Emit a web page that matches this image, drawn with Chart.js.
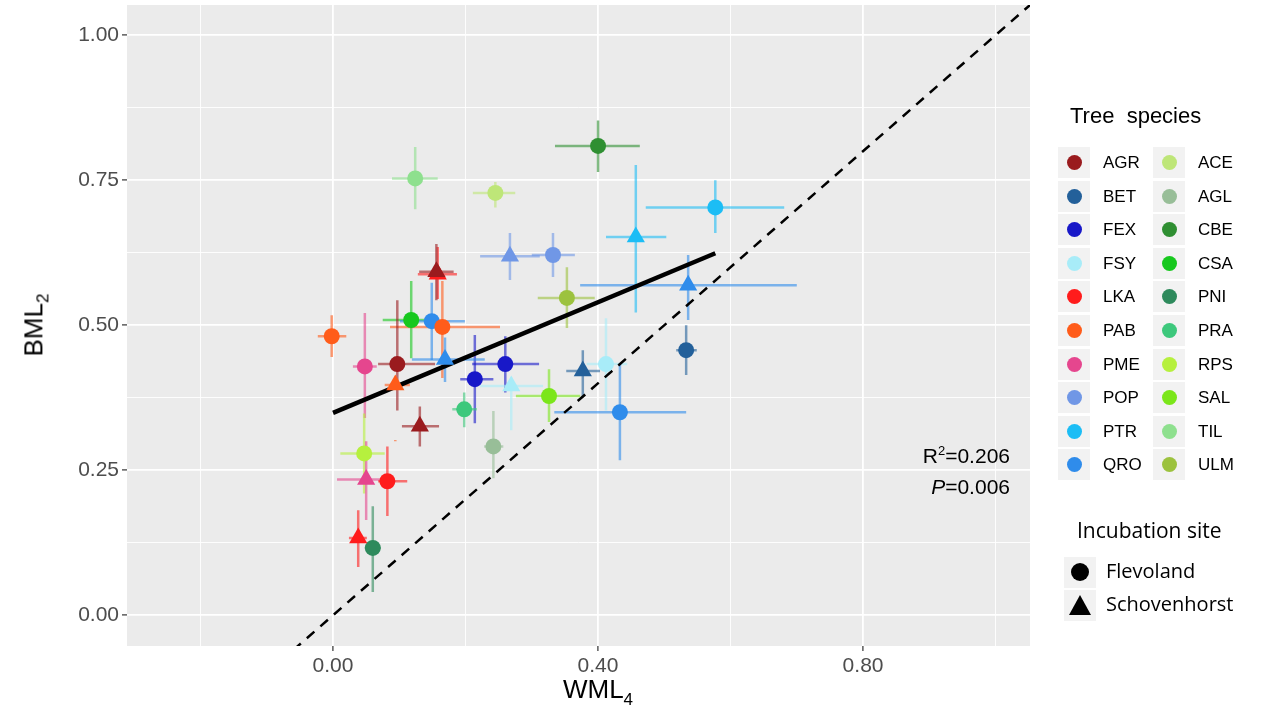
<!DOCTYPE html>
<html>
<head>
<meta charset="utf-8">
<script src="https://cdn.jsdelivr.net/npm/chart.js@4.4.0/dist/chart.umd.min.js"></script>
<style>
  body { margin: 0; background: #fff; font-family: "Liberation Sans", Arial, sans-serif; }
  #wrap { position: relative; width: 1267px; height: 711px; overflow: hidden; }
  canvas { position: absolute; left: 0; top: 0; }
  .t { position: absolute; white-space: pre; color: #000; }
  .key { position: absolute; width: 32px; height: 31px; background: #f2f2f2; }
  .dot { position: absolute; left: 9px; top: 8px; width: 15px; height: 15px; border-radius: 50%; }
  .tri { position: absolute; left: 5px; top: 5px; width: 22px; height: 20px; background: #000;
         clip-path: polygon(50% 0, 100% 100%, 0 100%); }
</style>
</head>
<body>
<div id="wrap">
  <canvas id="chart" width="1267" height="711"></canvas>
  <div class="t" style="left:36px;top:325px;font-size:26px;transform:translate(-50%,-50%) rotate(-90deg);transform-origin:center;">BML<sub style="font-size:17px">2</sub></div>
  <div class="t" style="left:598px;top:692px;font-size:26px;transform:translate(-50%,-50%);">WML<sub style="font-size:17px">4</sub></div>
  <div class="t" style="right:257px;top:443px;font-size:21px;">R<sup style="font-size:13px">2</sup>=0.206</div>
  <div class="t" style="right:257px;top:475px;font-size:21px;"><i>P</i>=0.006</div>
  <div id="legend"></div>
</div>
<script>
// values (WML4 on x, BML2 on y)
const species = ['TIL', 'ACE', 'CBE', 'PTR', 'POP', 'ULM', 'CSA', 'QRO', 'PAB', 'PAB', 'PME', 'AGR',
  'FEX', 'FEX', 'PRA', 'AGL', 'SAL', 'FSY', 'BET', 'QRO', 'RPS', 'LKA', 'PNI',
  'LKA', 'AGR', 'POP', 'PTR', 'QRO', 'QRO', 'PAB', 'AGR', 'FSY', 'BET', 'PME', 'LKA'];
const site = ['F', 'F', 'F', 'F', 'F', 'F', 'F', 'F', 'F', 'F', 'F', 'F',
  'F', 'F', 'F', 'F', 'F', 'F', 'F', 'F', 'F', 'F', 'F',
  'S', 'S', 'S', 'S', 'S', 'S', 'S', 'S', 'S', 'S', 'S', 'S'];
const wml = [0.124, 0.245, 0.400, 0.577, 0.332, 0.353, 0.118, 0.149, 0.165, -0.002, 0.048, 0.097,
  0.214, 0.260, 0.198, 0.242, 0.326, 0.412, 0.533, 0.433, 0.047, 0.082, 0.060,
  0.158, 0.156, 0.267, 0.457, 0.536, 0.169, 0.094, 0.131, 0.269, 0.377, 0.050, 0.038];
const bml = [0.753, 0.728, 0.809, 0.703, 0.621, 0.547, 0.509, 0.507, 0.497, 0.481, 0.429, 0.433,
  0.407, 0.433, 0.355, 0.291, 0.378, 0.433, 0.457, 0.350, 0.279, 0.231, 0.116,
  0.588, 0.592, 0.619, 0.652, 0.569, 0.441, 0.397, 0.326, 0.395, 0.421, 0.234, 0.133];
const wmlLo = [0.089, 0.211, 0.335, 0.472, 0.300, 0.309, 0.075, 0.101, 0.086, -0.023, 0.030, 0.068,
  0.192, 0.210, 0.180, 0.228, 0.276, 0.383, 0.518, 0.334, 0.011, 0.068, 0.048,
  0.128, 0.130, 0.222, 0.412, 0.373, 0.119, 0.078, 0.104, 0.222, 0.352, 0.006, 0.024];
const wmlHi = [0.158, 0.275, 0.463, 0.681, 0.365, 0.395, 0.157, 0.199, 0.252, 0.020, 0.066, 0.154,
  0.242, 0.311, 0.217, 0.257, 0.373, 0.444, 0.549, 0.533, 0.078, 0.112, 0.072,
  0.187, 0.182, 0.312, 0.503, 0.700, 0.229, 0.116, 0.160, 0.317, 0.403, 0.075, 0.051];
const bmlLo = [0.700, 0.703, 0.764, 0.659, 0.583, 0.495, 0.443, 0.440, 0.409, 0.445, 0.340, 0.353,
  0.331, 0.384, 0.324, 0.236, 0.333, 0.353, 0.414, 0.267, 0.210, 0.171, 0.040,
  0.545, 0.543, 0.578, 0.522, 0.509, 0.402, 0.302, 0.291, 0.319, 0.376, 0.164, 0.083];
const bmlHi = [0.807, 0.747, 0.853, 0.750, 0.659, 0.600, 0.576, 0.573, 0.576, 0.517, 0.521, 0.543,
  0.483, 0.481, 0.384, 0.352, 0.424, 0.512, 0.500, 0.434, 0.348, 0.291, 0.188,
  0.635, 0.640, 0.659, 0.776, 0.621, 0.479, 0.300, 0.360, 0.410, 0.457, 0.300, 0.181];

// fitted line and 1:1 line
const fitX = [0, 0.577];
const fitY = [0.349, 0.624];
const oneToOne = [-0.06, 1.06];

const xTicks = [-0.2, 0, 0.2, 0.4, 0.6, 0.8, 1.0];
const xMajor = [0, 0.4, 0.8];
const yTicks = [0, 0.125, 0.25, 0.375, 0.5, 0.625, 0.75, 0.875, 1.0];
const yMajor = [0, 0.25, 0.5, 0.75, 1.0];

const legendCol1 = ['AGR', 'BET', 'FEX', 'FSY', 'LKA', 'PAB', 'PME', 'POP', 'PTR', 'QRO'];
const legendCol2 = ['ACE', 'AGL', 'CBE', 'CSA', 'PNI', 'PRA', 'RPS', 'SAL', 'TIL', 'ULM'];
const colors = {
  AGR: '#9a1b1e', BET: '#23609a', FEX: '#1818c8', FSY: '#a8ecf8', LKA: '#ff1c1c',
  PAB: '#ff5c1a', PME: '#e5468e', POP: '#7097e6', PTR: '#1cbdf5', QRO: '#2f8ceb',
  ACE: '#bee678', AGL: '#98be98', CBE: '#2f8f32', CSA: '#17c81e', PNI: '#2e8a5c',
  PRA: '#3dc87c', RPS: '#b6f03e', SAL: '#7be61a', TIL: '#8ee08e', ULM: '#9cc23e'
};

function alpha(hex, a) {
  const n = parseInt(hex.slice(1), 16);
  return `rgba(${n >> 16},${(n >> 8) & 255},${n & 255},${a})`;
}
const isMajor = (list, v) => list.some(m => Math.abs(m - v) < 1e-9);

const panelBg = {
  id: 'panelBg',
  beforeDraw(chart) {
    const { ctx, chartArea: a } = chart;
    ctx.save();
    ctx.fillStyle = '#ebebeb';
    ctx.fillRect(a.left, a.top, a.right - a.left, a.bottom - a.top);
    ctx.restore();
  }
};

const errorBars = {
  id: 'errorBars',
  beforeDatasetsDraw(chart) {
    const { ctx, scales: { x, y }, chartArea: a } = chart;
    ctx.save();
    ctx.beginPath();
    ctx.rect(a.left, a.top, a.right - a.left, a.bottom - a.top);
    ctx.clip();
    ctx.lineWidth = 2.5;
    wml.forEach((v, i) => {
      const px = x.getPixelForValue(v);
      const py = y.getPixelForValue(bml[i]);
      ctx.strokeStyle = alpha(colors[species[i]], 0.6);
      ctx.beginPath();
      ctx.moveTo(x.getPixelForValue(wmlLo[i]), py);
      ctx.lineTo(x.getPixelForValue(wmlHi[i]), py);
      ctx.moveTo(px, y.getPixelForValue(bmlLo[i]));
      ctx.lineTo(px, y.getPixelForValue(bmlHi[i]));
      ctx.stroke();
    });
    ctx.restore();
  }
};

const tickFont = { family: '"Liberation Sans", Arial, sans-serif', size: 21 };

new Chart(document.getElementById('chart'), {
  type: 'scatter',
  data: {
    datasets: [
      {
        label: 'points',
        order: 0,
        data: wml.map((v, i) => ({ x: v, y: bml[i] })),
        pointStyle: site.map(s => s === 'F' ? 'circle' : 'triangle'),
        pointRadius: site.map(s => s === 'F' ? 8 : 10.5),
        pointHoverRadius: site.map(s => s === 'F' ? 8 : 10.5),
        pointBackgroundColor: species.map(s => colors[s]),
        pointBorderWidth: 0
      },
      {
        type: 'line',
        order: 1,
        data: fitX.map((v, i) => ({ x: v, y: fitY[i] })),
        borderColor: '#000',
        borderWidth: 4.5,
        pointRadius: 0
      },
      {
        type: 'line',
        order: 2,
        data: oneToOne.map(v => ({ x: v, y: v })),
        borderColor: '#000',
        borderWidth: 2.5,
        borderDash: [10, 8],
        pointRadius: 0
      }
    ]
  },
  options: {
    responsive: false,
    animation: false,
    events: [],
    layout: { autoPadding: false, padding: { top: 5, right: 237, left: 0, bottom: 0 } },
    plugins: { legend: { display: false }, tooltip: { enabled: false } },
    scales: {
      x: {
        type: 'linear',
        min: -0.311,
        max: 1.052,
        afterBuildTicks: s => { s.ticks = xTicks.map(v => ({ value: v })); },
        afterFit: s => { s.height = 65; s.paddingLeft = 0; s.paddingRight = 0; },
        border: { display: false },
        grid: {
          color: '#fff',
          lineWidth: c => isMajor(xMajor, c.tick.value) ? 1.8 : 0.9,
          tickColor: c => isMajor(xMajor, c.tick.value) ? '#333' : 'rgba(0,0,0,0)',
          tickLength: 5,
          tickWidth: 1.2
        },
        ticks: {
          autoSkip: false,
          maxRotation: 0,
          padding: 3,
          color: '#4d4d4d',
          font: tickFont,
          callback: v => isMajor(xMajor, v) ? v.toFixed(2) : ''
        }
      },
      y: {
        type: 'linear',
        min: -0.053,
        max: 1.052,
        afterBuildTicks: s => { s.ticks = yTicks.map(v => ({ value: v })); },
        afterFit: s => { s.width = 127; s.paddingTop = 0; s.paddingBottom = 0; },
        border: { display: false },
        grid: {
          color: '#fff',
          lineWidth: c => isMajor(yMajor, c.tick.value) ? 1.8 : 0.9,
          tickColor: c => isMajor(yMajor, c.tick.value) ? '#333' : 'rgba(0,0,0,0)',
          tickLength: 5,
          tickWidth: 1.2
        },
        ticks: {
          autoSkip: false,
          padding: 3,
          color: '#4d4d4d',
          font: tickFont,
          callback: v => isMajor(yMajor, v) ? v.toFixed(2) : ''
        }
      }
    }
  },
  plugins: [panelBg, errorBars]
});

// legend, drawn as html next to the panel
const legend = document.getElementById('legend');
let html = '<div class="t" style="left:1070px;top:103px;font-size:22px;">Tree  species</div>';
[legendCol1, legendCol2].forEach((col, c) => {
  col.forEach((name, r) => {
    const top = 147 + r * 33.6;
    const left = c === 0 ? 1058 : 1153;
    html += `<div class="key" style="left:${left}px;top:${top}px;"><div class="dot" style="background:${colors[name]}"></div></div>`;
    html += `<div class="t" style="left:${left + 45}px;top:${top + 6}px;font-size:17px;">${name}</div>`;
  });
});
html += '<div class="t" style="left:1077px;top:516px;font-size:21px;font-family:\'Open Sans\',sans-serif;">Incubation site</div>';
['Flevoland', 'Schovenhorst'].forEach((name, r) => {
  const top = 557 + r * 33;
  const mark = r === 0
    ? '<div class="dot" style="background:#000;left:7px;top:6px;width:18px;height:18px;"></div>'
    : '<div class="tri"></div>';
  html += `<div class="key" style="left:1064px;top:${top}px;">${mark}</div>`;
  html += `<div class="t" style="left:1106px;top:${top + 0}px;font-size:20px;font-family:'Open Sans',sans-serif;">${name}</div>`;
});
legend.innerHTML = html;
</script>
</body>
</html>
